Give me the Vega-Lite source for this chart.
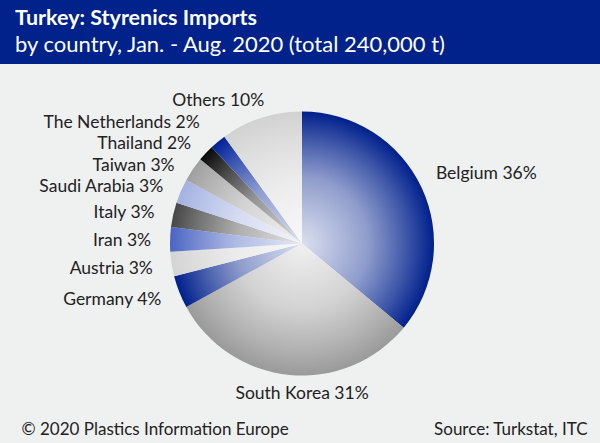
{
  "$schema": "https://vega.github.io/schema/vega-lite/v6.json",
  "autosize": {"type": "fit", "contains": "padding"},
  "width": 600,
  "height": 443,
  "padding": {"top": 7, "left": 0, "right": 0, "bottom": 0},
  "background": "#00228a",
  "title": {
    "text": "Turkey: Styrenics Imports",
    "subtitle": "by country, Jan. - Aug. 2020 (total 240,000 t)",
    "anchor": "start",
    "frame": "group",
    "dx": 15,
    "offset": 8,
    "font": "Lato",
    "fontSize": 21.5,
    "fontWeight": "bold",
    "color": "white",
    "subtitleFont": "Lato",
    "subtitleFontSize": 22,
    "subtitleColor": "white",
    "subtitlePadding": 6
  },
  "data": {
    "values": [
      {"country": "Belgium", "share": 36, "rank": 1},
      {"country": "South Korea", "share": 31, "rank": 2},
      {"country": "Germany", "share": 4, "rank": 3},
      {"country": "Austria", "share": 3, "rank": 4},
      {"country": "Iran", "share": 3, "rank": 5},
      {"country": "Italy", "share": 3, "rank": 6},
      {"country": "Saudi Arabia", "share": 3, "rank": 7},
      {"country": "Taiwan", "share": 3, "rank": 8},
      {"country": "Thailand", "share": 2, "rank": 9},
      {"country": "The Netherlands", "share": 2, "rank": 10},
      {"country": "Others", "share": 10, "rank": 11}
    ]
  },
  "transform": [
    {"calculate": "datum.country + ' ' + datum.share + '%'", "as": "label"}
  ],
  "layer": [
    {
      "mark": {"type": "arc", "outerRadius": 132, "xOffset": 2, "yOffset": -10},
      "encoding": {
        "theta": {"field": "share", "type": "quantitative", "stack": true},
        "order": {"field": "rank", "type": "quantitative"},
        "color": {
          "field": "country",
          "type": "nominal",
          "legend": null,
          "scale": {
            "domain": ["Belgium", "South Korea", "Germany", "Austria", "Iran", "Italy", "Saudi Arabia", "Taiwan", "Thailand", "The Netherlands", "Others"],
            "range": ["#00208c", "#9a9a9a", "#00208c", "#d4d4d4", "#4a64c4", "#474747", "#a4b2e2", "#a0a0a0", "#0a0a0a", "#00229a", "#d2d2d2"]
          }
        }
      }
    },
    {
      "transform": [{"aggregate": [{"op": "sum", "field": "share", "as": "total"}]}],
      "mark": {
        "type": "arc",
        "outerRadius": 132,
        "xOffset": 2,
        "yOffset": -10,
        "fill": {
          "gradient": "radial",
          "stops": [
            {"offset": 0, "color": "rgba(255,255,255,0.86)"},
            {"offset": 0.5, "color": "rgba(255,255,255,0.56)"},
            {"offset": 0.8, "color": "rgba(255,255,255,0.24)"},
            {"offset": 1, "color": "rgba(255,255,255,0)"}
          ]
        }
      },
      "encoding": {
        "theta": {"field": "total", "type": "quantitative", "stack": true}
      }
    },
    {
      "mark": {"type": "text", "radius": 148, "xOffset": 2, "yOffset": -10, "dy": -6, "align": "left", "baseline": "middle", "font": "Lato", "fontSize": 17.5, "color": "#222222"},
      "encoding": {
        "theta": {"field": "share", "type": "quantitative", "stack": true},
        "order": {"field": "rank", "type": "quantitative"},
        "detail": {"field": "country"},
        "text": {"condition": {"test": "datum.country == 'Belgium'", "field": "label"}, "value": ""}
      }
    },
    {
      "mark": {"type": "text", "radius": 148, "xOffset": 2, "yOffset": -10, "dx": -3, "dy": 2, "align": "right", "baseline": "middle", "font": "Lato", "fontSize": 17.5, "color": "#222222"},
      "encoding": {
        "theta": {"field": "share", "type": "quantitative", "stack": true},
        "order": {"field": "rank", "type": "quantitative"},
        "detail": {"field": "country"},
        "text": {"condition": {"test": "indexof(['Germany', 'Austria', 'Iran', 'Italy', 'Saudi Arabia', 'Thailand'], datum.country) >= 0", "field": "label"}, "value": ""}
      }
    },
    {
      "mark": {"type": "text", "radius": 148, "xOffset": 2, "yOffset": -10, "dx": -5, "dy": 6, "align": "right", "baseline": "middle", "font": "Lato", "fontSize": 17.5, "color": "#222222"},
      "encoding": {
        "theta": {"field": "share", "type": "quantitative", "stack": true},
        "order": {"field": "rank", "type": "quantitative"},
        "detail": {"field": "country"},
        "text": {"condition": {"test": "datum.country == 'Taiwan'", "field": "label"}, "value": ""}
      }
    },
    {
      "mark": {"type": "text", "radius": 148, "xOffset": 2, "yOffset": -10, "dx": -8, "dy": -6, "align": "right", "baseline": "middle", "font": "Lato", "fontSize": 17.5, "color": "#222222"},
      "encoding": {
        "theta": {"field": "share", "type": "quantitative", "stack": true},
        "order": {"field": "rank", "type": "quantitative"},
        "detail": {"field": "country"},
        "text": {"condition": {"test": "datum.country == 'The Netherlands'", "field": "label"}, "value": ""}
      }
    },
    {
      "mark": {"type": "text", "radius": 148, "xOffset": 2, "yOffset": -10, "dx": 8, "dy": -2, "align": "right", "baseline": "middle", "font": "Lato", "fontSize": 17.5, "color": "#222222"},
      "encoding": {
        "theta": {"field": "share", "type": "quantitative", "stack": true},
        "order": {"field": "rank", "type": "quantitative"},
        "detail": {"field": "country"},
        "text": {"condition": {"test": "datum.country == 'Others'", "field": "label"}, "value": ""}
      }
    },
    {
      "mark": {"type": "text", "radius": 148, "xOffset": 2, "yOffset": -10, "dx": 14, "dy": 3, "align": "center", "baseline": "middle", "font": "Lato", "fontSize": 17.5, "color": "#222222"},
      "encoding": {
        "theta": {"field": "share", "type": "quantitative", "stack": true},
        "order": {"field": "rank", "type": "quantitative"},
        "detail": {"field": "country"},
        "text": {"condition": {"test": "datum.country == 'South Korea'", "field": "label"}, "value": ""}
      }
    },
    {
      "data": {"values": [{"note": "© 2020 Plastics Information Europe"}, {"note": "Source: Turkstat, ITC"}]},
      "mark": {"type": "tick", "opacity": 0},
      "encoding": {
        "x": {
          "field": "note",
          "type": "nominal",
          "sort": null,
          "scale": {"type": "point", "padding": 0.03},
          "axis": {
            "orient": "bottom",
            "offset": -22,
            "title": null,
            "domain": false,
            "ticks": false,
            "grid": false,
            "labelAngle": 0,
            "labelPadding": 0,
            "labelOffset": 4,
            "labelBaseline": "top",
            "labelAlign": {"expr": "datum.index == 0 ? 'left' : 'right'"},
            "labelOverlap": false,
            "labelBound": false,
            "labelLimit": 500,
            "labelFont": "Lato",
            "labelFontSize": 17,
            "labelColor": "#222222"
          }
        }
      }
    }
  ],
  "config": {
    "view": {"fill": "#eff0f0", "stroke": null}
  }
}
